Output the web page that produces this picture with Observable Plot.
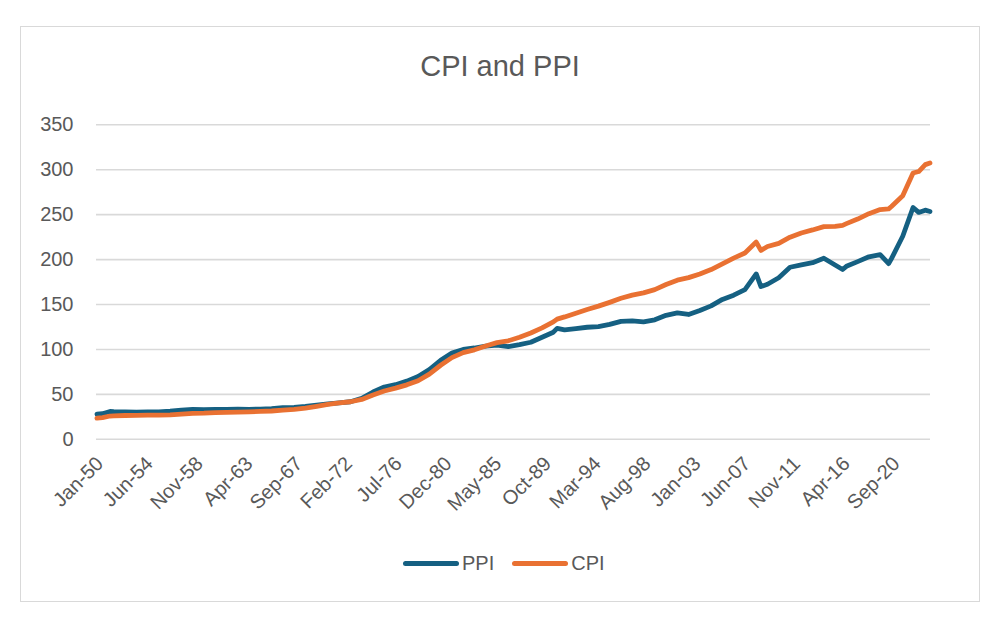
<!DOCTYPE html>
<html><head><meta charset="utf-8">
<script src="https://cdn.jsdelivr.net/npm/d3@7"></script>
<script src="https://cdn.jsdelivr.net/npm/@observablehq/plot@0.6"></script>
<style>
body{margin:0;background:#fff;font-family:"Liberation Sans",Arial,sans-serif;}
#wrap{position:relative;width:1008px;height:627px;overflow:hidden;background:#fff;}
#frame{position:absolute;left:20px;top:26px;width:958px;height:574px;border:1.5px solid #d9d9d9;}
#title{position:absolute;left:0;width:1000px;top:49px;text-align:center;font-size:29px;color:#595959;line-height:34px;}
#chart{position:absolute;left:0;top:100px;}
#legend{position:absolute;left:403px;top:551px;display:flex;align-items:center;font-size:20px;color:#595959;line-height:24px;}
.sw{display:inline-block;width:56px;height:5px;border-radius:3px;margin-right:3px;}
.item{display:flex;align-items:center;margin-right:18px;}
</style>
</head><body>
<div id="wrap">
<div id="frame"></div>
<div id="title">CPI and PPI</div>
<div id="chart"></div>
<div id="legend"></div>
</div>
<script>
const months = ["1950-01","1950-07","1951-03","1951-07","1952-07","1953-07","1954-07","1955-07","1956-07","1957-07","1958-07","1959-07","1960-07","1961-07","1962-07","1963-07","1964-07","1965-07","1966-07","1967-07","1968-07","1969-07","1970-07","1971-07","1972-07","1973-07","1974-07","1975-07","1976-07","1977-07","1978-07","1979-07","1980-07","1981-07","1982-07","1983-07","1984-07","1985-07","1986-07","1987-07","1988-07","1989-07","1990-07","1990-11","1991-07","1992-07","1993-07","1994-07","1995-07","1996-07","1997-07","1998-07","1999-07","2000-07","2001-07","2002-07","2003-07","2004-07","2005-07","2006-07","2007-07","2008-07","2008-12","2009-07","2010-07","2011-07","2012-07","2013-07","2014-07","2015-07","2016-03","2016-07","2017-07","2018-07","2019-07","2020-04","2020-07","2021-07","2022-06","2022-12","2023-07","2023-12"];
const cpi = [23.5,24.1,25.9,26.0,26.5,26.7,26.9,26.8,27.2,28.1,28.9,29.1,29.6,29.9,30.2,30.6,31.0,31.5,32.4,33.4,34.8,36.7,38.8,40.5,41.8,44.4,49.3,53.8,56.9,60.6,65.2,72.6,82.4,90.9,96.5,99.6,103.9,107.6,109.6,113.6,118.3,124.0,130.7,133.8,136.2,140.3,144.5,148.2,152.4,156.9,160.5,163.0,166.6,172.2,177.1,179.9,184.0,188.9,195.3,201.6,207.3,219.5,210.2,214.5,218.1,224.9,229.6,233.0,236.7,237.0,238.1,240.0,245.1,251.1,255.7,256.4,259.1,271.0,296.3,298.0,305.7,307.5];
const ppi = [28.0,28.5,31.0,30.8,30.6,30.3,30.4,30.5,31.3,32.5,33.2,33.1,33.4,33.4,33.5,33.4,33.5,34.1,35.2,35.6,36.6,38.0,39.3,40.5,41.8,45.6,52.6,58.2,60.8,64.7,69.8,77.6,88.0,96.1,100.0,101.6,103.7,104.7,103.2,105.4,108.0,113.6,119.2,123.5,121.7,123.2,124.7,125.5,127.9,131.3,131.8,130.7,133.0,138.0,140.7,138.9,143.3,148.5,155.7,160.4,166.6,184.0,170.0,172.5,179.8,191.5,194.2,196.6,201.5,193.9,189.0,192.5,197.7,203.1,205.5,195.5,201.0,226.0,258.0,252.5,255.0,253.5];
const tickLabels = ["Jan-50","Jun-54","Nov-58","Apr-63","Sep-67","Feb-72","Jul-76","Dec-80","May-85","Oct-89","Mar-94","Aug-98","Jan-03","Jun-07","Nov-11","Apr-16","Sep-20"];
const yTicks = [0,50,100,150,200,250,300,350];
const seriesNames = ["PPI","CPI"];
const seriesColors = ["#156082","#E97132"];

const monNames = ["Jan","Feb","Mar","Apr","May","Jun","Jul","Aug","Sep","Oct","Nov","Dec"];
function labelToDate(s){
  const [m, yy] = s.split("-");
  const y = +yy < 30 ? 2000 + +yy : 1900 + +yy;
  return new Date(y, monNames.indexOf(m), 15);
}
const tickDates = tickLabels.map(labelToDate);
const fmt = d => tickLabels[tickDates.findIndex(t => +t === +d)];

const rows = months.map((m,i) => {
  const [y, mo] = m.split("-").map(Number);
  return {date: new Date(y, mo-1, 15), ppi: ppi[i], cpi: cpi[i]};
});

const chart = Plot.plot({
  width: 1008, height: 430,
  marginLeft: 96, marginRight: 78, marginTop: 24.3, marginBottom: 91.2,
  style: {fontFamily: '"Liberation Sans", Arial, sans-serif', color: "#595959", background: "transparent", overflow: "visible"},
  x: {type: "time", domain: [new Date(1950,0,1), new Date(2024,0,1)]},
  y: {domain: [0, 350]},
  marks: [
    Plot.gridY(yTicks, {stroke: "#d9d9d9", strokeOpacity: 1, strokeWidth: 1.6}),
    Plot.axisY(yTicks, {tickSize: 0, tickPadding: 23, fontSize: 20, label: null}),
    Plot.axisX(tickDates, {tickSize: 0, tickPadding: 21, dx: 3, tickRotate: -45, fontSize: 20, label: null, tickFormat: fmt}),
    Plot.lineY(rows, {x: "date", y: "ppi", stroke: seriesColors[0], strokeWidth: 4.8, strokeLinejoin: "round", strokeLinecap: "round"}),
    Plot.lineY(rows, {x: "date", y: "cpi", stroke: seriesColors[1], strokeWidth: 4.8, strokeLinejoin: "round", strokeLinecap: "round"})
  ]
});
document.getElementById("chart").appendChild(chart);

const legend = document.getElementById("legend");
seriesNames.forEach((n,i) => {
  const it = document.createElement("div");
  it.className = "item";
  it.innerHTML = `<span class="sw" style="background:${seriesColors[i]}"></span><span>${n}</span>`;
  legend.appendChild(it);
});
</script>
</body></html>
